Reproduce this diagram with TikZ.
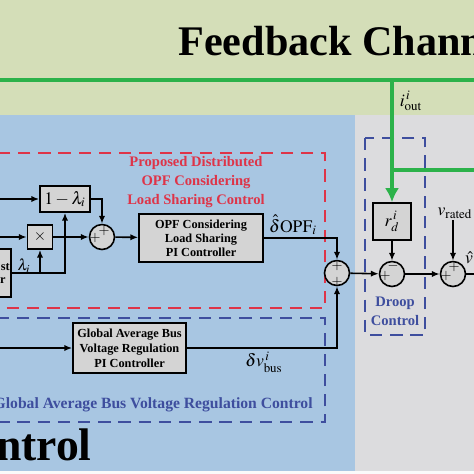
\documentclass[tikz,border=0pt]{standalone}
\usepackage{mathptmx}
\usepackage{fontspec}
\setmainfont{Liberation Serif}
\usetikzlibrary{arrows.meta,positioning,calc}

\definecolor{fbgreen}{RGB}{212,222,184}
\definecolor{ctrlblue}{RGB}{168,198,226}
\definecolor{droopgray}{RGB}{220,220,222}
\definecolor{boxgray}{RGB}{212,212,212}
\definecolor{linegreen}{RGB}{44,178,74}
\definecolor{dashred}{RGB}{222,52,72}
\definecolor{dashblue}{RGB}{62,78,158}

\tikzset{
	blk/.style={draw,line width=0.9pt,fill=boxgray,inner sep=0pt,align=center},
	sumnode/.style={circle,draw,line width=0.9pt,fill=boxgray,minimum size=0.5cm,inner sep=0pt},
	sgn/.style={inner sep=0pt,font=\fontsize{8}{8}\selectfont},
	sig/.style={line width=0.9pt,-{Latex[length=4.5pt,width=3.6pt]}},
	wire/.style={line width=0.9pt},
	fbline/.style={line width=2.3pt,draw=linegreen},
	grpbox/.style={line width=1.2pt,dash pattern=on 7pt off 4.5pt},
	lbl/.style={inner sep=1pt,font=\fontsize{10}{10}\selectfont}
}

\begin{document}
\begin{tikzpicture}[x=0.02cm,y=-0.02cm]
	\useasboundingbox (0,0) rectangle (474,474);
	\clip (0,0) rectangle (474,474);
	% backgrounds
	\fill[fbgreen] (0,0) rectangle (474,115);
	\fill[ctrlblue] (0,115) rectangle (355,471);
	\fill[droopgray] (355,115) rectangle (474,471);
	\fill[white!96!gray] (0,471) rectangle (474,474);
	\node[anchor=base west,inner sep=0pt,font=\fontsize{24}{24}\bfseries] (fbtitle) at (178,55) {Feedback Channel};
	\node[anchor=base east,inner sep=0pt,font=\fontsize{26}{26}\bfseries] (ctitle) at (92,460) {Control};

	% dashed groups
	\draw[grpbox,dashred] (-20,153) rectangle (325,308);
	\draw[grpbox,dashblue] (-20,318) rectangle (325,422);
	\draw[grpbox,dashblue] (365,138) rectangle (425,335);
	\node[align=center,text=dashred,font=\fontsize{8.3}{10.8}\bfseries] (redtxt) at (196,182) {Proposed Distributed\\OPF Considering\\Load Sharing Control};
	\node[anchor=base east,inner sep=0pt,text=dashblue,font=\fontsize{8.9}{10}\bfseries] (bluetxt) at (313,408) {Global Average Bus Voltage Regulation Control};
	\node[align=center,text=dashblue,font=\fontsize{8.3}{10.8}\bfseries] (drooptxt) at (395,311) {Droop\\Control};

	% blocks
	\node[blk,minimum width=1.24cm,minimum height=0.96cm] (lsrc) at (-20,273) {};
	\node[anchor=base east,inner sep=0pt,font=\fontsize{7}{7}\bfseries] (lsrct) at (10,270) {st};
	\node[anchor=base east,inner sep=0pt,font=\fontsize{7}{7}\bfseries] (lsrcb) at (6,283) {r};
	\node[blk,minimum width=1cm,minimum height=0.52cm,font=\fontsize{10}{10}\selectfont] (omlam) at (65,199) {$1-\lambda_i$};
	\node[blk,minimum width=0.5cm,minimum height=0.48cm,font=\fontsize{9}{9}\selectfont] (mult) at (40,237) {$\times$};
	\node[sumnode] (ssum) at (102,237) {};
	\node[blk,minimum width=2.48cm,minimum height=0.96cm,font=\fontsize{7}{8}\bfseries] (opf) at (201,238) {OPF Considering\\Load Sharing\\PI Controller};
	\node[blk,minimum width=2.26cm,minimum height=1cm,font=\fontsize{7}{8.5}\bfseries] (gavg) at (129.5,348) {Global Average Bus\\Voltage Regulation\\PI Controller};
	\node[sumnode] (msum) at (337,273) {};
	\node[blk,minimum width=0.76cm,minimum height=0.74cm,font=\fontsize{10}{10}\selectfont] (rd) at (392,221.5) {$r_d^{\,i}$};
	\node[sumnode] (dsum) at (392,274) {};
	\node[sumnode] (rsum) at (453,274) {};

	% signs
	\node[sgn] at (95,238) {$+$};
	\node[sgn] at (104,231) {$+$};
	\node[sgn] at (337,266) {$+$};
	\node[sgn] at (337,282) {$+$};
	\node[sgn] at (385,276) {$+$};
	\node[sgn] at (393,266) {$-$};
	\node[sgn] at (446,276) {$+$};
	\node[sgn] at (454,267) {$+$};

	% labels
	\node[lbl] (iout) at (411,101) {$i_{\mathrm{out}}^{\,i}$};
	\node[lbl] (dopf) at (293,225) {$\hat{\delta}\mathrm{OPF}_i$};
	\node[lbl] (dvbus) at (264,362) {$\delta v_{\mathrm{bus}}^{\,i}$};
	\node[lbl,font=\fontsize{9}{9}\selectfont] (lam) at (24,266) {$\lambda_i$};
	\node[lbl] (vr) at (455,213) {$v_{\mathrm{rated}}$};
	\node[lbl,anchor=west] (vhat) at (463,258) {$\hat{v}$};

	% free ends
	\coordinate (in1) at (0,199);
	\coordinate (in2) at (0,237);
	\coordinate (in3) at (0,348);
	\coordinate (vout) at (474,274);
	\coordinate (fbL) at (0,80);
	\coordinate (fbR) at (474,80);
	\coordinate (tap) at (392,80);
	\coordinate (tap2) at (392,170);
	\coordinate (fbR2) at (474,170);

	% signal lines
	\draw[sig] (in1) -- (omlam);
	\draw[sig] (in2) -- (mult);
	\draw[sig] (mult) -- (ssum);
	\fill (omlam.south |- mult.east) circle (1.5);
	\draw[sig] (lsrc.east) -| (omlam.south);
	\draw[sig] (mult.south |- lsrc.east) -- (mult.south);
	\draw[sig] (omlam.east) -| (ssum.north);
	\draw[sig] (ssum) -- (opf);
	\draw[sig] (opf.east) -| (msum.north);
	\draw[sig] (in3) -- (gavg);
	\draw[sig] (gavg.east) -| (msum.south);
	\draw[sig] (msum) -- (dsum);
	\draw[sig] (rd) -- (dsum);
	\draw[sig] (dsum) -- (rsum);
	\draw[sig] (vr.south -| rsum.north) -- (rsum.north);
	\draw[wire] (rsum) -- (vout);

	% feedback channel
	\draw[fbline] (fbL) -- (fbR);
	\draw[fbline,-{Latex[length=8pt,width=8pt]}] (tap) -- (rd.north);
	\draw[fbline] (tap2) -- (fbR2);
\end{tikzpicture}
\end{document}
